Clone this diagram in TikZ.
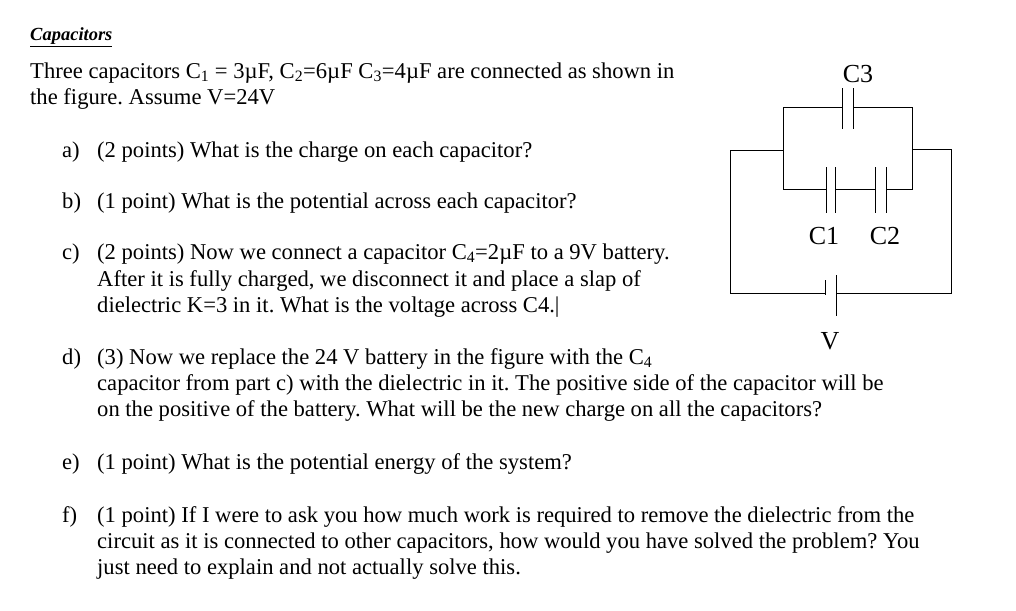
\documentclass[tikz,border=0pt]{standalone}
\usepackage{fontspec}
\setmainfont{Liberation Serif}
\begin{document}
\frenchspacing
\begin{tikzpicture}[x=1pt,y=-1pt,
  txt/.style={anchor=west,inner sep=0pt,font=\fontsize{22.6}{26}\selectfont},
  lbl/.style={inner sep=0pt,font=\fontsize{26}{30}\selectfont},
  wire/.style={line width=1pt}]
\useasboundingbox (0,0) rectangle (1016,610);
\node[anchor=west,inner sep=0pt,font=\fontsize{18.5}{20}\selectfont\bfseries\itshape] (title) at (30,37) {\underline{Capacitors}};
\node[txt] (l1) at (30,73) {Three capacitors C\textsubscript{1} = 3µF, C\textsubscript{2}=6µF C\textsubscript{3}=4µF are connected as shown in};
\node[txt] (l2) at (30,99) {the figure. Assume V=24V};
\node[txt] (a) at (62,152) {a)};
\node[txt] (at) at (97,152) {(2 points) What is the charge on each capacitor?};
\node[txt] (b) at (62,203) {b)};
\node[txt] (bt) at (97,203) {(1 point) What is the potential across each capacitor?};
\node[txt] (c) at (62,254) {c)};
\node[txt] (ct1) at (97,254) {(2 points) Now we connect a capacitor C\textsubscript{4}=2µF to a 9V battery.};
\node[txt] (ct2) at (97,281) {After it is fully charged, we disconnect it and place a slap of};
\node[txt] (ct3) at (97,307) {dielectric K=3 in it. What is the voltage across C4.|};
\node[txt] (d) at (62,359) {d)};
\node[txt] (dt1) at (97,359) {(3) Now we replace the 24 V battery in the figure with the C\textsubscript{4}};
\node[txt] (dt2) at (97,385) {capacitor from part c) with the dielectric in it. The positive side of the capacitor will be};
\node[txt] (dt3) at (97,411) {on the positive of the battery. What will be the new charge on all the capacitors?};
\node[txt] (e) at (62,464) {e)};
\node[txt] (et) at (97,464) {(1 point) What is the potential energy of the system?};
\node[txt] (f) at (62,517) {f)};
\node[txt] (ft1) at (97,517) {(1 point) If I were to ask you how much work is required to remove the dielectric from the};
\node[txt] (ft2) at (97,543) {circuit as it is connected to other capacitors, how would you have solved the problem? You};
\node[txt] (ft3) at (97,569) {just need to explain and not actually solve this.};
% circuit
\draw[wire] (842,107) -| (783,189) -- (826,189);
\draw[wire] (853,107) -| (912,189) -- (886,189);
\draw[wire] (835,189) -- (875,189);
\draw[wire] (783,150) -- (730,150) |- (825,293);
\draw[wire] (912,149) -- (951,149) |- (836,293);
\draw[wire] (842,88) -- (842,129) (853,88) -- (853,129);
\draw[wire] (826,167) -- (826,213) (835,167) -- (835,213);
\draw[wire] (875,167) -- (875,213) (886,167) -- (886,213);
\draw[wire] (825,280) -- (825,295) (836,275) -- (836,316);
\node[lbl] (c3) at (858,74) {C3};
\node[lbl] (c1) at (824,236) {C1};
\node[lbl] (c2) at (885,236) {C2};
\node[lbl] (v) at (830,341) {V};
\end{tikzpicture}
\end{document}
